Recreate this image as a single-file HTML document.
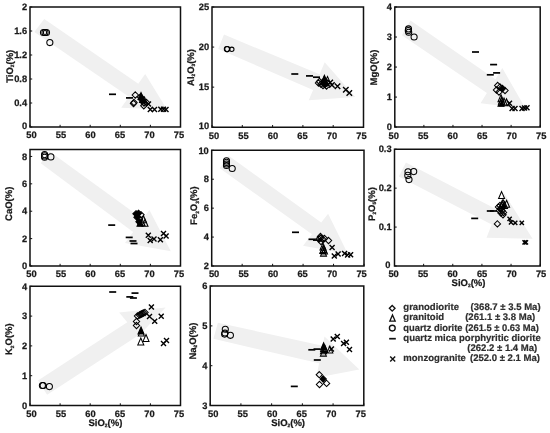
<!DOCTYPE html>
<html><head><meta charset="utf-8"><style>
html,body{margin:0;padding:0;background:#fff;}
svg{display:block;}
text{text-rendering:geometricPrecision;}
.t{font-family:"Liberation Sans",Arial,sans-serif;font-weight:bold;font-size:9.3px;fill:#1a1a1a;stroke:#1a1a1a;stroke-width:0.25px;}
.l{font-family:"Liberation Sans",Arial,sans-serif;font-weight:bold;font-size:9.5px;fill:#1a1a1a;stroke:#1a1a1a;stroke-width:0.25px;}
.g{font-family:"Liberation Sans",Arial,sans-serif;font-weight:bold;font-size:9.55px;fill:#2e2e2e;stroke:#2e2e2e;stroke-width:0.2px;}
</style></head><body>
<svg width="550" height="433" viewBox="0 0 550 433">
<polygon points="44.2,19.1 138.3,83.7 145.2,74.0 167.0,109.5 121.2,107.7 129.0,96.7 34.4,32.1" fill="#f0f0f0"/>
<polygon points="224.0,34.6 319.6,74.3 324.7,62.2 355.2,97.1 308.7,100.2 313.1,89.9 218.2,49.1" fill="#f0f0f0"/>
<polygon points="410.5,20.6 495.4,79.2 502.3,68.0 525.5,108.5 480.5,103.3 486.9,93.0 401.9,35.2" fill="#f0f0f0"/>
<polygon points="49.4,151.3 142.7,219.0 149.4,210.0 170.8,251.3 125.0,243.0 133.2,231.9 40.8,163.2" fill="#f0f0f0"/>
<polygon points="228.7,155.8 321.2,222.5 328.1,213.7 347.9,254.1 303.0,245.7 312.0,234.2 219.7,168.2" fill="#f0f0f0"/>
<polygon points="405.9,162.4 497.4,209.8 504.0,193.0 532.6,238.8 486.5,237.8 491.7,224.6 398.8,176.6" fill="#f0f0f0"/>
<polygon points="38.0,380.4 127.3,322.3 119.2,312.4 165.6,307.6 138.5,336.0 138.2,335.6 47.1,394.8" fill="#f0f0f0"/>
<polygon points="217.9,322.7 322.6,345.8 324.5,336.5 359.3,369.5 316.2,377.8 319.1,363.3 213.4,338.8" fill="#f0f0f0"/>
<g fill="none" stroke="#000" stroke-width="1.05"><circle cx="43.5" cy="32.5" r="3.05"/><circle cx="45" cy="32.5" r="3.05"/><circle cx="46.5" cy="32.5" r="3.05"/><circle cx="49.85" cy="42.55" r="3.05"/><path d="M109.00,94.3H116.00" stroke-width="1.7"/><path d="M126.00,97.9H133.00" stroke-width="1.7"/><path d="M135.3,91.85L138.45,95L135.3,98.15L132.15,95Z"/><path d="M133.5,100.35L136.65,103.5L133.5,106.65L130.35,103.5Z"/><path d="M134,99.35L137.15,102.5L134,105.65L130.85,102.5Z"/><path d="M141,92.50L144.00,99.40L138.00,99.40Z" fill="#000"/><path d="M142.5,95.50L145.50,102.40L139.50,102.40Z" fill="#000"/><path d="M140.5,93.85L143.65,97L140.5,100.15L137.35,97Z"/><path d="M142,96.85L145.15,100L142,103.15L138.85,100Z"/><path d="M144,99.85L147.15,103L144,106.15L140.85,103Z"/><path d="M143.8,102.65L146.95,105.8L143.8,108.95L140.65,105.8Z"/><path d="M146.5,99.35L149.65,102.5L146.5,105.65L143.35,102.5Z"/><path d="M144.5,97.00L147.50,103.90L141.50,103.90Z"/><path d="M146.00,101.50L151.00,106.50M146.00,106.50L151.00,101.50" stroke-width="1.4"/><path d="M147.80,107.00L152.80,112.00M147.80,112.00L152.80,107.00" stroke-width="1.4"/><path d="M152.00,107.00L157.00,112.00M152.00,112.00L157.00,107.00" stroke-width="1.4"/><path d="M158.30,106.70L163.30,111.70M158.30,111.70L163.30,106.70" stroke-width="1.4"/><path d="M161.00,106.80L166.00,111.80M161.00,111.80L166.00,106.80" stroke-width="1.4"/><path d="M163.50,106.90L168.50,111.90M163.50,111.90L168.50,106.90" stroke-width="1.4"/></g>
<g fill="none" stroke="#000" stroke-width="1.05"><circle cx="226.9" cy="49.1" r="2.59"/><circle cx="227.3" cy="49.1" r="2.59"/><circle cx="231.8" cy="49.3" r="2.20"/><path d="M291.30,74.0H298.30" stroke-width="1.7"/><path d="M306.00,75.9H313.00" stroke-width="1.7"/><path d="M313.00,77.2H320.00" stroke-width="1.7"/><path d="M324.4,75.20L327.40,82.10L321.40,82.10Z" fill="#000"/><path d="M324,77.00L327.00,83.90L321.00,83.90Z"/><path d="M325.5,78.50L328.50,85.40L322.50,85.40Z" fill="#000"/><path d="M327.5,76.50L330.50,83.40L324.50,83.40Z"/><path d="M319.5,78.35L322.65,81.5L319.5,84.65L316.35,81.5Z"/><path d="M318.5,79.85L321.65,83L318.5,86.15L315.35,83Z"/><path d="M321,81.15L324.15,84.3L321,87.45L317.85,84.3Z"/><path d="M323,82.35L326.15,85.5L323,88.65L319.85,85.5Z"/><path d="M325,81.35L328.15,84.5L325,87.65L321.85,84.5Z" fill="#000"/><path d="M327,79.85L330.15,83L327,86.15L323.85,83Z"/><path d="M326.5,82.85L329.65,86L326.5,89.15L323.35,86Z"/><path d="M322.5,79.35L325.65,82.5L322.5,85.65L319.35,82.5Z"/><path d="M327.45,79.75L332.95,85.25M327.45,85.25L332.95,79.75" stroke-width="1.4"/><path d="M329.15,82.15L334.65,87.65M329.15,87.65L334.65,82.15" stroke-width="1.4"/><path d="M334.75,83.55L340.25,89.05M334.75,89.05L340.25,83.55" stroke-width="1.4"/><path d="M343.05,87.00L348.55,92.50M343.05,92.50L348.55,87.00" stroke-width="1.4"/><path d="M346.55,90.15L352.05,95.65M346.55,95.65L352.05,90.15" stroke-width="1.4"/></g>
<g fill="none" stroke="#000" stroke-width="1.05"><circle cx="408.5" cy="28.9" r="3.05"/><circle cx="408.3" cy="30.6" r="3.05"/><circle cx="408.7" cy="32.2" r="3.05"/><circle cx="414.1" cy="37" r="3.05"/><path d="M472.00,52H479.00" stroke-width="1.7"/><path d="M490.10,64.6H497.10" stroke-width="1.7"/><path d="M493.10,72.9H500.10" stroke-width="1.7"/><path d="M486.80,74.8H493.80" stroke-width="1.7"/><path d="M497.7,82.35L500.85,85.5L497.7,88.65L494.55,85.5Z"/><path d="M500,83.85L503.15,87L500,90.15L496.85,87Z"/><path d="M502.5,85.35L505.65,88.5L502.5,91.65L499.35,88.5Z" fill="#000"/><path d="M505,87.35L508.15,90.5L505,93.65L501.85,90.5Z"/><path d="M496.5,86.85L499.65,90L496.5,93.15L493.35,90Z"/><path d="M499,88.85L502.15,92L499,95.15L495.85,92Z"/><path d="M501,94.80L504.00,101.70L498.00,101.70Z"/><path d="M501.5,97.30L504.50,104.20L498.50,104.20Z"/><path d="M501,99.20L504.00,106.10L498.00,106.10Z"/><path d="M501.5,101.20L503.60,106.03L499.40,106.03Z" fill="#000"/><path d="M506.5,98.80L509.50,105.70L503.50,105.70Z"/><path d="M504,98.00L507.00,104.90L501.00,104.90Z"/><path d="M507.00,100.80L512.00,105.80M507.00,105.80L512.00,100.80" stroke-width="1.4"/><path d="M509.60,105.90L514.60,110.90M509.60,110.90L514.60,105.90" stroke-width="1.4"/><path d="M512.50,105.90L517.50,110.90M512.50,110.90L517.50,105.90" stroke-width="1.4"/><path d="M519.50,105.90L524.50,110.90M519.50,110.90L524.50,105.90" stroke-width="1.4"/><path d="M522.00,105.50L527.00,110.50M522.00,110.50L527.00,105.50" stroke-width="1.4"/><path d="M524.50,105.20L529.50,110.20M524.50,110.20L529.50,105.20" stroke-width="1.4"/></g>
<g fill="none" stroke="#000" stroke-width="1.05"><circle cx="44.6" cy="154.6" r="3.05"/><circle cx="44.6" cy="155.9" r="3.05"/><circle cx="44.6" cy="157.2" r="3.05"/><circle cx="50.9" cy="156.9" r="3.05"/><path d="M108.20,225.1H115.20" stroke-width="1.7"/><path d="M125.70,237.4H132.70" stroke-width="1.7"/><path d="M129.50,241H136.50" stroke-width="1.7"/><path d="M130.50,243.5H137.50" stroke-width="1.7"/><path d="M136,210.65L139.15,213.8L136,216.95L132.85,213.8Z" fill="#000"/><path d="M138.5,210.15L141.65,213.3L138.5,216.45L135.35,213.3Z" fill="#000"/><path d="M141,211.65L144.15,214.8L141,217.95L137.85,214.8Z"/><path d="M137,214.15L140.15,217.3L137,220.45L133.85,217.3Z" fill="#000"/><path d="M139.5,215.65L142.65,218.8L139.5,221.95L136.35,218.8Z"/><path d="M139,218.65L142.15,221.8L139,224.95L135.85,221.8Z" fill="#000"/><path d="M140,219.30L143.00,226.20L137.00,226.20Z" fill="#000"/><path d="M145,219.40L148.00,226.30L142.00,226.30Z"/><path d="M143.5,215.80L146.50,222.70L140.50,222.70Z"/><path d="M142,218.80L145.00,225.70L139.00,225.70Z"/><path d="M145.80,232.80L150.80,237.80M145.80,237.80L150.80,232.80" stroke-width="1.4"/><path d="M147.70,237.90L152.70,242.90M147.70,242.90L152.70,237.90" stroke-width="1.4"/><path d="M151.50,236.60L156.50,241.60M151.50,241.60L156.50,236.60" stroke-width="1.4"/><path d="M157.90,237.20L162.90,242.20M157.90,242.20L162.90,237.20" stroke-width="1.4"/><path d="M161.00,230.90L166.00,235.90M161.00,235.90L166.00,230.90" stroke-width="1.4"/><path d="M163.60,233.40L168.60,238.40M163.60,238.40L168.60,233.40" stroke-width="1.4"/></g>
<g fill="none" stroke="#000" stroke-width="1.05"><circle cx="226.5" cy="160.9" r="3.05"/><circle cx="226.5" cy="162.4" r="3.05"/><circle cx="226.5" cy="164" r="3.05"/><circle cx="226.5" cy="165.5" r="3.05"/><circle cx="232.2" cy="168.5" r="3.05"/><path d="M292.00,232.3H299.00" stroke-width="1.7"/><path d="M308.50,239.3H315.50" stroke-width="1.7"/><path d="M313.00,240.1H320.00" stroke-width="1.7"/><path d="M320.5,233.35L323.65,236.5L320.5,239.65L317.35,236.5Z"/><path d="M319,235.85L322.15,239L319,242.15L315.85,239Z"/><path d="M322.5,235.85L325.65,239L322.5,242.15L319.35,239Z"/><path d="M321,238.35L324.15,241.5L321,244.65L317.85,241.5Z"/><path d="M328.5,237.35L331.65,240.5L328.5,243.65L325.35,240.5Z"/><path d="M324.5,235.35L327.65,238.5L324.5,241.65L321.35,238.5Z"/><path d="M320.8,234.85L323.95,238L320.8,241.15L317.65,238Z"/><path d="M323,243.00L326.00,249.90L320.00,249.90Z"/><path d="M323.5,245.50L326.50,252.40L320.50,252.40Z"/><path d="M323.5,249.20L326.50,256.10L320.50,256.10Z"/><path d="M324.5,247.00L327.50,253.90L321.50,253.90Z"/><path d="M322.8,246.50L325.80,253.40L319.80,253.40Z"/><path d="M329.60,245.10L334.60,250.10M329.60,250.10L334.60,245.10" stroke-width="1.4"/><path d="M331.80,253.60L336.80,258.60M331.80,258.60L336.80,253.60" stroke-width="1.4"/><path d="M335.60,251.40L340.60,256.40M335.60,256.40L340.60,251.40" stroke-width="1.4"/><path d="M342.10,250.90L347.10,255.90M342.10,255.90L347.10,250.90" stroke-width="1.4"/><path d="M345.10,252.50L350.10,257.50M345.10,257.50L350.10,252.50" stroke-width="1.4"/><path d="M348.10,252.20L353.10,257.20M348.10,257.20L353.10,252.20" stroke-width="1.4"/></g>
<g fill="none" stroke="#000" stroke-width="1.05"><circle cx="408" cy="171.8" r="3.05"/><circle cx="413.7" cy="171.6" r="3.05"/><circle cx="407.8" cy="175.4" r="3.05"/><circle cx="409" cy="179.6" r="3.05"/><path d="M471.20,218.4H478.20" stroke-width="1.7"/><path d="M486.80,211H493.80" stroke-width="1.7"/><path d="M490.00,211H497.00" stroke-width="1.7"/><path d="M501.6,191.60L504.60,198.50L498.60,198.50Z"/><path d="M506.6,200.30L509.60,207.20L503.60,207.20Z"/><path d="M503,199.50L506.00,206.40L500.00,206.40Z"/><path d="M504.5,201.50L507.50,208.40L501.50,208.40Z"/><path d="M502,201.00L505.00,207.90L499.00,207.90Z"/><path d="M503.5,203.10L505.30,207.24L501.70,207.24Z" fill="#000"/><path d="M498.5,203.85L501.65,207L498.5,210.15L495.35,207Z"/><path d="M500.5,205.35L503.65,208.5L500.5,211.65L497.35,208.5Z"/><path d="M502,207.35L505.15,210.5L502,213.65L498.85,210.5Z"/><path d="M501,209.85L504.15,213L501,216.15L497.85,213Z"/><path d="M503.5,209.35L506.65,212.5L503.5,215.65L500.35,212.5Z"/><path d="M500,202.35L503.15,205.5L500,208.65L496.85,205.5Z"/><path d="M499.5,207.35L502.65,210.5L499.5,213.65L496.35,210.5Z"/><path d="M503,211.65L506.15,214.8L503,217.95L499.85,214.8Z"/><path d="M497.4,220.75L500.55,223.9L497.4,227.05L494.25,223.9Z"/><path d="M507.48,216.68L511.73,220.93M507.48,220.93L511.73,216.68" stroke-width="1.4"/><path d="M508.88,220.28L513.12,224.53M508.88,224.53L513.12,220.28" stroke-width="1.4"/><path d="M513.08,220.68L517.33,224.93M513.08,224.93L517.33,220.68" stroke-width="1.4"/><path d="M519.67,220.68L523.92,224.93M519.67,224.93L523.92,220.68" stroke-width="1.4"/><path d="M522.48,240.18L526.73,244.43M522.48,244.43L526.73,240.18" stroke-width="1.4"/><path d="M523.77,240.18L528.02,244.43M523.77,244.43L528.02,240.18" stroke-width="1.4"/></g>
<g fill="none" stroke="#000" stroke-width="1.05"><circle cx="42.4" cy="385.5" r="3.05"/><circle cx="43.2" cy="385.5" r="3.05"/><circle cx="49.4" cy="386.6" r="3.05"/><path d="M109.20,292H116.20" stroke-width="1.7"/><path d="M131.50,293.1H138.50" stroke-width="1.7"/><path d="M126.30,296.9H133.30" stroke-width="1.7"/><path d="M129.90,298H136.90" stroke-width="1.7"/><path d="M137.5,312.85L140.65,316L137.5,319.15L134.35,316Z"/><path d="M139.5,311.85L142.65,315L139.5,318.15L136.35,315Z"/><path d="M141.5,310.85L144.65,314L141.5,317.15L138.35,314Z"/><path d="M143.5,309.85L146.65,313L143.5,316.15L140.35,313Z"/><path d="M145,309.35L148.15,312.5L145,315.65L141.85,312.5Z"/><path d="M140.5,311.35L143.65,314.5L140.5,317.65L137.35,314.5Z"/><path d="M142.5,310.35L145.65,313.5L142.5,316.65L139.35,313.5Z"/><path d="M136.5,318.35L139.65,321.5L136.5,324.65L133.35,321.5Z"/><path d="M136.5,322.35L139.65,325.5L136.5,328.65L133.35,325.5Z"/><path d="M141,327.00L144.00,333.90L138.00,333.90Z" fill="#000"/><path d="M141.3,329.00L144.30,335.90L138.30,335.90Z"/><path d="M140.8,338.00L143.80,344.90L137.80,344.90Z"/><path d="M146,334.50L149.00,341.40L143.00,341.40Z"/><path d="M148.90,304.50L153.90,309.50M148.90,309.50L153.90,304.50" stroke-width="1.4"/><path d="M147.00,313.90L152.00,318.90M147.00,318.90L152.00,313.90" stroke-width="1.4"/><path d="M152.20,318.80L157.20,323.80M152.20,323.80L157.20,318.80" stroke-width="1.4"/><path d="M158.70,313.80L163.70,318.80M158.70,318.80L163.70,313.80" stroke-width="1.4"/><path d="M161.00,341.00L166.00,346.00M161.00,346.00L166.00,341.00" stroke-width="1.4"/><path d="M164.00,338.00L169.00,343.00M164.00,343.00L169.00,338.00" stroke-width="1.4"/></g>
<g fill="none" stroke="#000" stroke-width="1.05"><circle cx="225.3" cy="329.2" r="3.05"/><circle cx="224.6" cy="334.1" r="3.05"/><circle cx="230.4" cy="335.3" r="3.05"/><circle cx="225" cy="333" r="3.05"/><path d="M308.30,349.8H315.30" stroke-width="1.7"/><path d="M313.50,349.1H320.50" stroke-width="1.7"/><path d="M313.80,360H320.80" stroke-width="1.7"/><path d="M290.80,386.4H297.80" stroke-width="1.7"/><path d="M323.6,342.80L326.60,349.70L320.60,349.70Z" fill="#000"/><path d="M323.6,344.60L326.60,351.50L320.60,351.50Z"/><path d="M323.5,346.80L326.50,353.70L320.50,353.70Z"/><path d="M323.4,349.20L326.40,356.10L320.40,356.10Z"/><path d="M329.8,346.00L332.80,352.90L326.80,352.90Z"/><path d="M325,345.50L328.00,352.40L322.00,352.40Z"/><path d="M328.90,346.60L333.90,351.60M328.90,351.60L333.90,346.60" stroke-width="1.4"/><path d="M330.70,336.60L335.70,341.60M330.70,341.60L335.70,336.60" stroke-width="1.4"/><path d="M334.80,333.90L339.80,338.90M334.80,338.90L339.80,333.90" stroke-width="1.4"/><path d="M341.10,341.10L346.10,346.10M341.10,346.10L346.10,341.10" stroke-width="1.4"/><path d="M343.90,339.80L348.90,344.80M343.90,344.80L348.90,339.80" stroke-width="1.4"/><path d="M347.00,347.00L352.00,352.00M347.00,352.00L352.00,347.00" stroke-width="1.4"/><path d="M319.3,371.55L322.45,374.7L319.3,377.85L316.15,374.7Z"/><path d="M323.2,375.85L326.35,379L323.2,382.15L320.05,379Z" fill="#000"/><path d="M319.5,381.35L322.65,384.5L319.5,387.65L316.35,384.5Z"/><path d="M326.6,380.25L329.75,383.4L326.6,386.55L323.45,383.4Z"/></g>
<path d="M30,7H180.5V127H30Z" fill="none" stroke="#111" stroke-width="1.5"/>
<path d="M30.00,127V124.80" stroke="#111" stroke-width="1"/>
<text x="31.50" y="138.40" text-anchor="middle" class="t">50</text>
<path d="M60.10,127V124.80" stroke="#111" stroke-width="1"/>
<text x="61.00" y="138.40" text-anchor="middle" class="t">55</text>
<path d="M90.20,127V124.80" stroke="#111" stroke-width="1"/>
<text x="90.50" y="138.40" text-anchor="middle" class="t">60</text>
<path d="M120.30,127V124.80" stroke="#111" stroke-width="1"/>
<text x="120.00" y="138.40" text-anchor="middle" class="t">65</text>
<path d="M150.40,127V124.80" stroke="#111" stroke-width="1"/>
<text x="149.50" y="138.40" text-anchor="middle" class="t">70</text>
<path d="M180.50,127V124.80" stroke="#111" stroke-width="1"/>
<text x="179.00" y="138.40" text-anchor="middle" class="t">75</text>
<path d="M30,127.00H32.20" stroke="#111" stroke-width="1"/>
<text x="27.10" y="128.70" text-anchor="end" class="t">0</text>
<path d="M30,103.00H32.20" stroke="#111" stroke-width="1"/>
<text x="27.10" y="106.20" text-anchor="end" class="t">0.4</text>
<path d="M30,79.00H32.20" stroke="#111" stroke-width="1"/>
<text x="27.10" y="82.20" text-anchor="end" class="t">0.8</text>
<path d="M30,55.00H32.20" stroke="#111" stroke-width="1"/>
<text x="27.10" y="58.20" text-anchor="end" class="t">1.2</text>
<path d="M30,31.00H32.20" stroke="#111" stroke-width="1"/>
<text x="27.10" y="34.20" text-anchor="end" class="t">1.6</text>
<path d="M30,7.00H32.20" stroke="#111" stroke-width="1"/>
<text x="27.10" y="10.20" text-anchor="end" class="t">2</text>
<text transform="translate(13.0,66.3) rotate(-90)" text-anchor="middle" class="l">TiO<tspan font-size="4.75" dy="1.3">2</tspan><tspan dy="-1.3">(%)</tspan></text>
<path d="M212,7H363.5V127.2H212Z" fill="none" stroke="#111" stroke-width="1.5"/>
<path d="M212.00,127.2V125.00" stroke="#111" stroke-width="1"/>
<text x="214.00" y="138.60" text-anchor="middle" class="t">50</text>
<path d="M242.30,127.2V125.00" stroke="#111" stroke-width="1"/>
<text x="243.50" y="138.60" text-anchor="middle" class="t">55</text>
<path d="M272.60,127.2V125.00" stroke="#111" stroke-width="1"/>
<text x="273.00" y="138.60" text-anchor="middle" class="t">60</text>
<path d="M302.90,127.2V125.00" stroke="#111" stroke-width="1"/>
<text x="302.50" y="138.60" text-anchor="middle" class="t">65</text>
<path d="M333.20,127.2V125.00" stroke="#111" stroke-width="1"/>
<text x="332.00" y="138.60" text-anchor="middle" class="t">70</text>
<path d="M363.50,127.2V125.00" stroke="#111" stroke-width="1"/>
<text x="361.50" y="138.60" text-anchor="middle" class="t">75</text>
<path d="M212,127.20H214.20" stroke="#111" stroke-width="1"/>
<text x="209.10" y="128.90" text-anchor="end" class="t">10</text>
<path d="M212,87.13H214.20" stroke="#111" stroke-width="1"/>
<text x="209.10" y="90.33" text-anchor="end" class="t">15</text>
<path d="M212,47.07H214.20" stroke="#111" stroke-width="1"/>
<text x="209.10" y="50.27" text-anchor="end" class="t">20</text>
<path d="M212,7.00H214.20" stroke="#111" stroke-width="1"/>
<text x="209.10" y="10.20" text-anchor="end" class="t">25</text>
<text transform="translate(194.0,67.5) rotate(-90)" text-anchor="middle" class="l">Al<tspan font-size="4.75" dy="1.3">2</tspan><tspan dy="-1.3">O</tspan><tspan font-size="4.75" dy="1.3">3</tspan><tspan dy="-1.3">(%)</tspan></text>
<path d="M394.8,7H540.2V127.1H394.8Z" fill="none" stroke="#111" stroke-width="1.5"/>
<path d="M394.80,127.1V124.90" stroke="#111" stroke-width="1"/>
<text x="393.75" y="138.50" text-anchor="middle" class="t">50</text>
<path d="M423.88,127.1V124.90" stroke="#111" stroke-width="1"/>
<text x="423.25" y="138.50" text-anchor="middle" class="t">55</text>
<path d="M452.96,127.1V124.90" stroke="#111" stroke-width="1"/>
<text x="452.75" y="138.50" text-anchor="middle" class="t">60</text>
<path d="M482.04,127.1V124.90" stroke="#111" stroke-width="1"/>
<text x="482.25" y="138.50" text-anchor="middle" class="t">65</text>
<path d="M511.12,127.1V124.90" stroke="#111" stroke-width="1"/>
<text x="511.75" y="138.50" text-anchor="middle" class="t">70</text>
<path d="M540.20,127.1V124.90" stroke="#111" stroke-width="1"/>
<text x="541.25" y="138.50" text-anchor="middle" class="t">75</text>
<path d="M394.8,127.10H397.00" stroke="#111" stroke-width="1"/>
<text x="391.90" y="130.30" text-anchor="end" class="t">0</text>
<path d="M394.8,97.07H397.00" stroke="#111" stroke-width="1"/>
<text x="391.90" y="100.27" text-anchor="end" class="t">1</text>
<path d="M394.8,67.05H397.00" stroke="#111" stroke-width="1"/>
<text x="391.90" y="70.25" text-anchor="end" class="t">2</text>
<path d="M394.8,37.03H397.00" stroke="#111" stroke-width="1"/>
<text x="391.90" y="40.23" text-anchor="end" class="t">3</text>
<path d="M394.8,7.00H397.00" stroke="#111" stroke-width="1"/>
<text x="391.90" y="10.20" text-anchor="end" class="t">4</text>
<text transform="translate(376.5,67.5) rotate(-90)" text-anchor="middle" class="l">MgO(%)</text>
<path d="M30,149.6H180.5V266H30Z" fill="none" stroke="#111" stroke-width="1.5"/>
<path d="M30.00,266V263.80" stroke="#111" stroke-width="1"/>
<text x="31.50" y="277.40" text-anchor="middle" class="t">50</text>
<path d="M60.10,266V263.80" stroke="#111" stroke-width="1"/>
<text x="61.00" y="277.40" text-anchor="middle" class="t">55</text>
<path d="M90.20,266V263.80" stroke="#111" stroke-width="1"/>
<text x="90.50" y="277.40" text-anchor="middle" class="t">60</text>
<path d="M120.30,266V263.80" stroke="#111" stroke-width="1"/>
<text x="120.00" y="277.40" text-anchor="middle" class="t">65</text>
<path d="M150.40,266V263.80" stroke="#111" stroke-width="1"/>
<text x="149.50" y="277.40" text-anchor="middle" class="t">70</text>
<path d="M180.50,266V263.80" stroke="#111" stroke-width="1"/>
<text x="179.00" y="277.40" text-anchor="middle" class="t">75</text>
<path d="M30,266.00H32.20" stroke="#111" stroke-width="1"/>
<text x="27.10" y="269.20" text-anchor="end" class="t">0</text>
<path d="M30,238.61H32.20" stroke="#111" stroke-width="1"/>
<text x="27.10" y="241.81" text-anchor="end" class="t">2</text>
<path d="M30,211.22H32.20" stroke="#111" stroke-width="1"/>
<text x="27.10" y="214.42" text-anchor="end" class="t">4</text>
<path d="M30,183.84H32.20" stroke="#111" stroke-width="1"/>
<text x="27.10" y="187.04" text-anchor="end" class="t">6</text>
<path d="M30,156.45H32.20" stroke="#111" stroke-width="1"/>
<text x="27.10" y="159.65" text-anchor="end" class="t">8</text>
<text transform="translate(11.8,203.8) rotate(-90)" text-anchor="middle" class="l">CaO(%)</text>
<path d="M211.7,150.3H364V266H211.7Z" fill="none" stroke="#111" stroke-width="1.5"/>
<path d="M211.70,266V263.80" stroke="#111" stroke-width="1"/>
<text x="214.10" y="277.40" text-anchor="middle" class="t">50</text>
<path d="M242.16,266V263.80" stroke="#111" stroke-width="1"/>
<text x="243.60" y="277.40" text-anchor="middle" class="t">55</text>
<path d="M272.62,266V263.80" stroke="#111" stroke-width="1"/>
<text x="273.10" y="277.40" text-anchor="middle" class="t">60</text>
<path d="M303.08,266V263.80" stroke="#111" stroke-width="1"/>
<text x="302.60" y="277.40" text-anchor="middle" class="t">65</text>
<path d="M333.54,266V263.80" stroke="#111" stroke-width="1"/>
<text x="332.10" y="277.40" text-anchor="middle" class="t">70</text>
<path d="M364.00,266V263.80" stroke="#111" stroke-width="1"/>
<text x="361.60" y="277.40" text-anchor="middle" class="t">75</text>
<path d="M211.7,266.00H213.90" stroke="#111" stroke-width="1"/>
<text x="208.80" y="269.20" text-anchor="end" class="t">2</text>
<path d="M211.7,237.07H213.90" stroke="#111" stroke-width="1"/>
<text x="208.80" y="240.27" text-anchor="end" class="t">4</text>
<path d="M211.7,208.15H213.90" stroke="#111" stroke-width="1"/>
<text x="208.80" y="211.35" text-anchor="end" class="t">6</text>
<path d="M211.7,179.23H213.90" stroke="#111" stroke-width="1"/>
<text x="208.80" y="182.43" text-anchor="end" class="t">8</text>
<path d="M211.7,150.30H213.90" stroke="#111" stroke-width="1"/>
<text x="208.80" y="153.50" text-anchor="end" class="t">10</text>
<text transform="translate(197.2,205.6) rotate(-90)" text-anchor="middle" class="l">Fe<tspan font-size="4.75" dy="1.3">2</tspan><tspan dy="-1.3">O</tspan><tspan font-size="4.75" dy="1.3">3</tspan><tspan dy="-1.3">(%)</tspan></text>
<path d="M394.5,149.2H540.2V266H394.5Z" fill="none" stroke="#111" stroke-width="1.5"/>
<path d="M394.50,266V263.80" stroke="#111" stroke-width="1"/>
<text x="393.60" y="277.40" text-anchor="middle" class="t">50</text>
<path d="M423.64,266V263.80" stroke="#111" stroke-width="1"/>
<text x="423.10" y="277.40" text-anchor="middle" class="t">55</text>
<path d="M452.78,266V263.80" stroke="#111" stroke-width="1"/>
<text x="452.60" y="277.40" text-anchor="middle" class="t">60</text>
<path d="M481.92,266V263.80" stroke="#111" stroke-width="1"/>
<text x="482.10" y="277.40" text-anchor="middle" class="t">65</text>
<path d="M511.06,266V263.80" stroke="#111" stroke-width="1"/>
<text x="511.60" y="277.40" text-anchor="middle" class="t">70</text>
<path d="M540.20,266V263.80" stroke="#111" stroke-width="1"/>
<text x="541.10" y="277.40" text-anchor="middle" class="t">75</text>
<path d="M394.5,266.00H396.70" stroke="#111" stroke-width="1"/>
<text x="390.40" y="268.00" text-anchor="end" class="t">0</text>
<path d="M394.5,227.07H396.70" stroke="#111" stroke-width="1"/>
<text x="391.60" y="230.27" text-anchor="end" class="t">0.1</text>
<path d="M394.5,188.13H396.70" stroke="#111" stroke-width="1"/>
<text x="391.60" y="191.33" text-anchor="end" class="t">0.2</text>
<path d="M394.5,149.20H396.70" stroke="#111" stroke-width="1"/>
<text x="391.60" y="152.40" text-anchor="end" class="t">0.3</text>
<text transform="translate(375.0,204) rotate(-90)" text-anchor="middle" class="l">P<tspan font-size="4.75" dy="1.3">2</tspan><tspan dy="-1.3">O</tspan><tspan font-size="4.75" dy="1.3">5</tspan><tspan dy="-1.3">(%)</tspan></text>
<text x="468.5" y="285.9" text-anchor="middle" class="l">SiO<tspan font-size="4.75" dy="1.3">2</tspan><tspan dy="-1.3">(%)</tspan></text>
<path d="M30,286.3H180.5V405.5H30Z" fill="none" stroke="#111" stroke-width="1.5"/>
<path d="M30.00,405.5V403.30" stroke="#111" stroke-width="1"/>
<text x="31.50" y="416.90" text-anchor="middle" class="t">50</text>
<path d="M60.10,405.5V403.30" stroke="#111" stroke-width="1"/>
<text x="61.00" y="416.90" text-anchor="middle" class="t">55</text>
<path d="M90.20,405.5V403.30" stroke="#111" stroke-width="1"/>
<text x="90.50" y="416.90" text-anchor="middle" class="t">60</text>
<path d="M120.30,405.5V403.30" stroke="#111" stroke-width="1"/>
<text x="120.00" y="416.90" text-anchor="middle" class="t">65</text>
<path d="M150.40,405.5V403.30" stroke="#111" stroke-width="1"/>
<text x="149.50" y="416.90" text-anchor="middle" class="t">70</text>
<path d="M180.50,405.5V403.30" stroke="#111" stroke-width="1"/>
<text x="179.00" y="416.90" text-anchor="middle" class="t">75</text>
<path d="M30,405.50H32.20" stroke="#111" stroke-width="1"/>
<text x="27.10" y="408.70" text-anchor="end" class="t">0</text>
<path d="M30,375.70H32.20" stroke="#111" stroke-width="1"/>
<text x="27.10" y="378.90" text-anchor="end" class="t">1</text>
<path d="M30,345.90H32.20" stroke="#111" stroke-width="1"/>
<text x="27.10" y="349.10" text-anchor="end" class="t">2</text>
<path d="M30,316.10H32.20" stroke="#111" stroke-width="1"/>
<text x="27.10" y="319.30" text-anchor="end" class="t">3</text>
<path d="M30,286.30H32.20" stroke="#111" stroke-width="1"/>
<text x="27.10" y="289.50" text-anchor="end" class="t">4</text>
<text transform="translate(12.2,339.2) rotate(-90)" text-anchor="middle" class="l">K<tspan font-size="4.75" dy="1.3">2</tspan><tspan dy="-1.3">O(%)</tspan></text>
<text x="105.4" y="426" text-anchor="middle" class="l">SiO<tspan font-size="4.75" dy="1.3">2</tspan><tspan dy="-1.3">(%)</tspan></text>
<path d="M210.2,286.1H363.8V405.5H210.2Z" fill="none" stroke="#111" stroke-width="1.5"/>
<path d="M210.20,405.5V403.30" stroke="#111" stroke-width="1"/>
<text x="213.25" y="416.90" text-anchor="middle" class="t">50</text>
<path d="M240.92,405.5V403.30" stroke="#111" stroke-width="1"/>
<text x="242.75" y="416.90" text-anchor="middle" class="t">55</text>
<path d="M271.64,405.5V403.30" stroke="#111" stroke-width="1"/>
<text x="272.25" y="416.90" text-anchor="middle" class="t">60</text>
<path d="M302.36,405.5V403.30" stroke="#111" stroke-width="1"/>
<text x="301.75" y="416.90" text-anchor="middle" class="t">65</text>
<path d="M333.08,405.5V403.30" stroke="#111" stroke-width="1"/>
<text x="331.25" y="416.90" text-anchor="middle" class="t">70</text>
<path d="M363.80,405.5V403.30" stroke="#111" stroke-width="1"/>
<text x="360.75" y="416.90" text-anchor="middle" class="t">75</text>
<path d="M210.2,405.50H212.40" stroke="#111" stroke-width="1"/>
<text x="207.30" y="408.70" text-anchor="end" class="t">3</text>
<path d="M210.2,365.70H212.40" stroke="#111" stroke-width="1"/>
<text x="207.30" y="368.90" text-anchor="end" class="t">4</text>
<path d="M210.2,325.90H212.40" stroke="#111" stroke-width="1"/>
<text x="207.30" y="329.10" text-anchor="end" class="t">5</text>
<path d="M210.2,286.10H212.40" stroke="#111" stroke-width="1"/>
<text x="207.30" y="289.30" text-anchor="end" class="t">6</text>
<text transform="translate(195.9,341.1) rotate(-90)" text-anchor="middle" class="l">Na<tspan font-size="4.75" dy="1.3">2</tspan><tspan dy="-1.3">O(%)</tspan></text>
<text x="288.1" y="425.7" text-anchor="middle" class="l">SiO<tspan font-size="4.75" dy="1.3">2</tspan><tspan dy="-1.3">(%)</tspan></text>
<g fill="none" stroke="#111" stroke-width="1.35"><path d="M392.2,305.47L395.03,308.3L392.2,311.13L389.37,308.3Z"/></g>
<text x="403.3" y="310" class="g">granodiorite</text>
<text x="470.6" y="310" class="g">(368.7 ± 3.5 Ma)</text>
<g fill="none" stroke="#111" stroke-width="1.35"><path d="M392.5,314.98L395.14,321.05L389.86,321.05Z"/></g>
<text x="403.3" y="320.3" class="g">granitoid</text>
<text x="465.2" y="320.3" class="g">(261.1 ± 3.8 Ma)</text>
<g fill="none" stroke="#111" stroke-width="1.35"><circle cx="392.3" cy="328.1" r="2.90"/></g>
<text x="403.3" y="330.5" class="g" textLength="135.6" lengthAdjust="spacingAndGlyphs">quartz diorite (261.5 ± 0.63 Ma)</text>
<g fill="none" stroke="#111" stroke-width="1.35"><path d="M389.18,338.7H395.82" stroke-width="1.7"/></g>
<text x="403.3" y="340.8" class="g">quartz mica porphyritic diorite</text>
<text x="467.3" y="351" class="g">(262.2 ± 1.4 Ma)</text>
<g fill="none" stroke="#111" stroke-width="1.35"><path d="M390.20,356.50L395.20,361.50M390.20,361.50L395.20,356.50" stroke-width="1.4"/></g>
<text x="403.3" y="361.2" class="g">monzogranite</text>
<text x="470" y="361.2" class="g">(252.0 ± 2.1 Ma)</text>
</svg>
</body></html>
